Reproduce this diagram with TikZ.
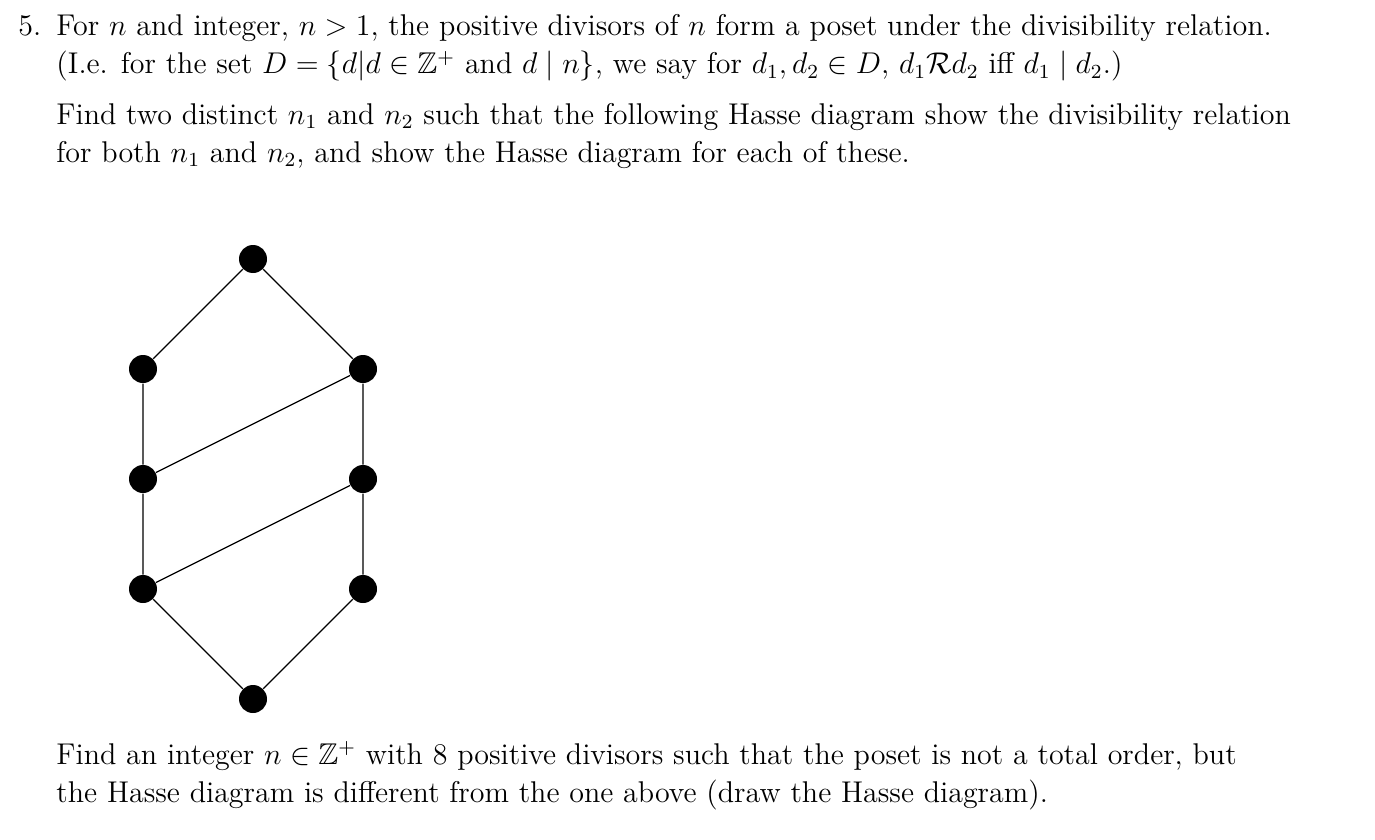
\documentclass[tikz,border=0pt]{standalone}
\usepackage{amsmath,amssymb}
\begin{document}
\begin{tikzpicture}[x=0.4pt,y=-0.4pt,
  dot/.style={circle,fill=black,inner sep=0pt,minimum size=11.2pt},
  txt/.style={anchor=base west,inner sep=0pt,font=\fontsize{12}{14}\selectfont}]
\useasboundingbox (0,0) rectangle (1375,840);
\node[txt] (n5) at (18,36) {5.};
\node[txt] (l1) at (56,36) {For $n$ and integer, $n>1$, the positive divisors of $n$ form a poset under the divisibility relation.};
\node[txt] (l2) at (56,74) {(I.e. for the set $D=\{d|d\in\mathbb{Z}^+$ and $d\mid n\}$, we say for $d_1,d_2\in D$, $d_1\mathcal{R}d_2$ iff $d_1\mid d_2$.)};
\node[txt] (l3) at (56,124) {Find two distinct $n_1$ and $n_2$ such that the following Hasse diagram show the divisibility relation};
\node[txt] (l4) at (56,162) {for both $n_1$ and $n_2$, and show the Hasse diagram for each of these.};
\node[txt] (l5) at (56,764) {Find an integer $n\in\mathbb{Z}^+$ with 8 positive divisors such that the poset is not a total order, but};
\node[txt] (l6) at (56,802) {the Hasse diagram is different from the one above (draw the Hasse diagram).};
\node[dot] (t) at (253,259) {};
\node[dot] (a1) at (143,369) {};
\node[dot] (b1) at (363,369) {};
\node[dot] (a2) at (143,479) {};
\node[dot] (b2) at (363,479) {};
\node[dot] (a3) at (143,589) {};
\node[dot] (b3) at (363,589) {};
\node[dot] (bt) at (253,699) {};
\draw[line width=0.5pt] (t)--(a1) (t)--(b1) (a1)--(a2) (b1)--(b2) (a2)--(b1)
  (a2)--(a3) (b2)--(b3) (a3)--(b2) (a3)--(bt) (b3)--(bt);
\end{tikzpicture}
\end{document}
